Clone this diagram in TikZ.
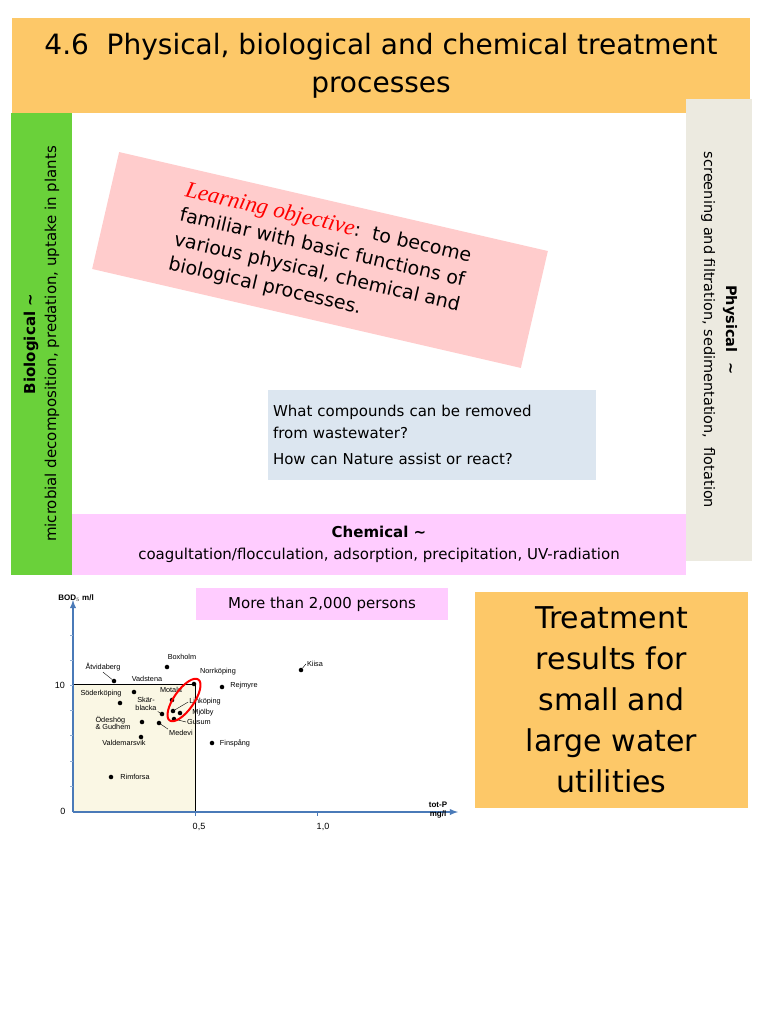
\documentclass[tikz,border=0pt]{standalone}
\usepackage{fontspec}
\setmainfont{DejaVu Sans}
\setsansfont{Liberation Sans}
\newfontfamily\serifit{Liberation Serif}
\begin{document}
\begin{tikzpicture}[x=1pt,y=-1pt,
  lbl/.style={font=\fontsize{7.3}{7.5}\selectfont\sffamily, inner sep=1pt},
  dot/.style={circle,fill=black,inner sep=1.6pt},
  bx/.style={draw=none,inner sep=0pt}]
\useasboundingbox (0,0) rectangle (768,1024);
\definecolor{org}{HTML}{FDC868}
\definecolor{grn}{HTML}{6AD13A}
\definecolor{beig}{HTML}{ECEAE0}
\definecolor{pnk}{HTML}{FFCCFF}
\definecolor{rose}{HTML}{FFCCCC}
\definecolor{lblue}{HTML}{DCE6F0}
\definecolor{cream}{HTML}{FAF7E4}
\definecolor{axb}{HTML}{4A7AB8}
% title
\node[bx,fill=org,minimum width=738,minimum height=95,align=center,font=\fontsize{28}{38}\selectfont] (title) at (381,65.5) {4.6\ \ Physical, biological and chemical treatment\\processes};
% left strip
\node[bx,fill=grn,minimum width=462,minimum height=61,rotate=90,align=center,font=\fontsize{15}{21}\selectfont] (bio) at (41.5,344) {\textbf{Biological \textasciitilde}\\microbial decomposition, predation, uptake in plants};
% right strip
\node[bx,fill=beig,minimum width=462,minimum height=66,rotate=-90,align=center,font=\fontsize{14.5}{22}\selectfont] (phys) at (719,330) {\textbf{Physical \ \textasciitilde}\\screening and filtration, sedimentation, \ flotation};
% chemical
\node[bx,fill=pnk,minimum width=614,minimum height=61,align=center,font=\fontsize{15}{22}\selectfont] (chem) at (379,544.5) {\textbf{Chemical \textasciitilde}\\coagultation/flocculation, adsorption, precipitation, UV-radiation};
% learning objective
\node[bx,fill=rose,rotate=-13,minimum width=440,minimum height=120,align=left,font=\fontsize{19}{25}\selectfont] (lo) at (320,260) {{\color{red}\serifit\itshape\fontsize{23}{25}\selectfont Learning objective}:\ \ to become\\familiar with basic functions of\\various physical, chemical and\\biological processes.};
% blue box
\node[bx,fill=lblue,minimum width=328,minimum height=90,align=left,text width=318,font=\fontsize{15}{22}\selectfont] (q) at (432,435) {What compounds can be removed\\from wastewater?\\[4pt]How can Nature assist or react?};
% orange box
\node[bx,fill=org,minimum width=273,minimum height=216,align=center,font=\fontsize{30}{41}\selectfont] (tr) at (611.5,700) {Treatment\\results for\\small and\\large water\\utilities};
% chart
\fill[cream] (73,684) rectangle (195,812);
\draw[black,line width=0.9pt] (73,684) rectangle (195,812);
\coordinate (o) at (73,812);
\coordinate (ytop) at (73,600);
\coordinate (xend) at (458,812);
\draw[axb,line width=1.8pt,-latex] (o) -- (ytop);
\draw[axb,line width=1.8pt,-latex] (o) -- (xend);
\foreach \yy in {786,761,735,710,685,660,635} \draw[axb!60,line width=0.5pt] (70,\yy) -- (73,\yy);
\foreach \xx in {195,317} \draw[axb,line width=0.6pt] (\xx,812) -- (\xx,816);
\node[lbl,font=\fontsize{9}{9}\selectfont\sffamily] (l0) at (63,811) {0};
\node[lbl,font=\fontsize{9}{9}\selectfont\sffamily] (l10) at (60,685) {10};
\node[lbl,font=\fontsize{9}{9}\selectfont\sffamily] (l05) at (199,827) {0,5};
\node[lbl,font=\fontsize{9}{9}\selectfont\sffamily] (l1) at (323,827) {1,0};
\node[lbl,font=\bfseries\fontsize{8}{9}\selectfont\sffamily,align=center] (xl) at (438,810) {tot-P\\mg/l};
\node[lbl,font=\bfseries\fontsize{8}{9}\selectfont\sffamily] (yl) at (76,598) {BOD$_{\scriptscriptstyle 5}$ m/l};
\node[bx,fill=pnk,minimum width=252,minimum height=32,font=\fontsize{15}{16}\selectfont] (more) at (322,604) {More than 2,000 persons};
% points
\foreach \n/\dx/\dy/\lx/\ly/\t in {
 bo/167/667/182/657/Boxholm,
 at/114/681/103/667/Åtvidaberg,
 va/134/692/147/679/Vadstena,
 no/194/684/218/672/Norrköping,
 ki/301/670/315/664/Kiisa,
 re/222/687/244/686/Rejmyre,
 so/120/703/101/694/Söderköping,
 mo/172/700/171/690/Motala,
 li/173/711/205/702/Linköping,
 mj/180/713/203/713/Mjölby,
 gu/174/719/199/722/Gusum,
 me/159/723/181/733/Medevi,
 va2/141/737/124/743/Valdemarsvik,
 fi/212/743/235/743/Finspång,
 ri/111/777/135/777/Rimforsa}
 { \node[dot] (d\n) at (\dx,\dy) {}; \node[lbl] (t\n) at (\lx,\ly) {\t}; }
\node[dot] (dsk) at (162,714) {};
\node[lbl,align=center,font=\fontsize{7.3}{7.3}\selectfont\sffamily] (tsk) at (146,704) {Skär-\\blacka};
\node[dot] (dod) at (142,722) {};
\node[lbl,align=left,font=\fontsize{7.3}{7.3}\selectfont\sffamily] (tod) at (113,723) {Ödeshög\\\& Gudhem};
\draw[line width=0.4pt] (tat.south) -- (dat);
\draw[line width=0.4pt] (tsk.south east) -- (dsk);
\draw[line width=0.4pt] (tli.west) -- (dli);
\draw[line width=0.4pt] (tgu.west) -- (dgu);
\draw[line width=0.4pt] (tme.north west) -- (dme);
\draw[line width=0.4pt] (tki.west) -- (dki);
\draw[red,line width=2pt,rotate around={55:(184,700)}] (184,700) ellipse (25 and 10);
\end{tikzpicture}
\end{document}
